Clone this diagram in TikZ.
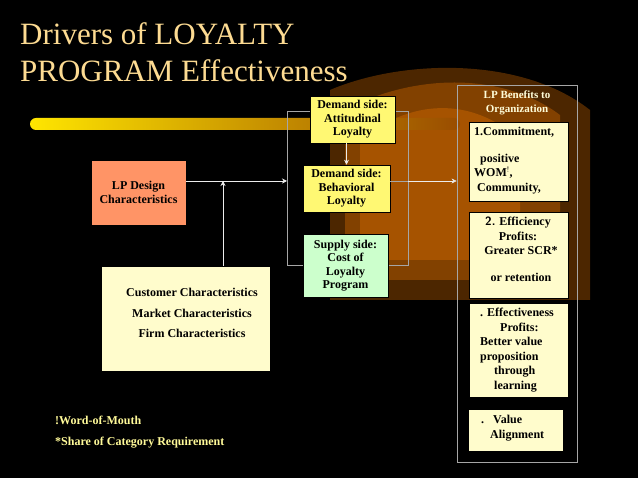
\documentclass[tikz,border=0pt]{standalone}
\usepackage{fontspec}
\usetikzlibrary{arrows.meta}
\setmainfont{Liberation Serif}
\begin{document}
\begin{tikzpicture}[x=1pt,y=-1pt,
  bx/.style={draw=black,line width=0.6pt,fill=#1,inner sep=0pt,font=\bfseries\fontsize{12}{13.5}\selectfont,align=center},
  tx/.style={font=\bfseries\fontsize{12}{14.5}\selectfont,inner sep=0},
  conn/.style={draw=gray!70,line width=0.6pt},
  arr/.style={conn,-{Stealth[length=5pt,width=5pt]},draw=white!85!gray}]
\useasboundingbox (0,0) rectangle (638,478);
\fill[black] (0,0) rectangle (638,478);
% decorative brown arcs
\begin{scope}
\fill[orange!50!black,opacity=0.6] (330,300) -- (330,90) .. controls (400,60) and (520,55) .. (590,110) -- (590,300) -- cycle;
\fill[orange!65!black,opacity=0.6] (345,280) -- (345,110) .. controls (410,75) and (500,70) .. (560,115) -- (560,280) -- cycle;
\fill[orange!75!black,opacity=0.6] (360,260) -- (360,140) .. controls (410,100) and (470,95) .. (520,140) -- (520,260) -- cycle;
\fill[black,opacity=0.6] (330,300) rectangle (600,478);
\end{scope}
\shade[left color=yellow!80!orange,right color=orange!60!black,rounded corners=6pt] (30,118) rectangle (460,130);
% title
\node[anchor=west,text=yellow!35!orange!40!white,font=\fontsize{31}{37}\selectfont,align=left,inner sep=0pt] (title) at (20,52) {Drivers of LOYALTY\\PROGRAM Effectiveness};
% bracket
\coordinate (bl) at (287,111); \coordinate (br) at (408,111);
\coordinate (bbl) at (287,265); \coordinate (bbr) at (408,265);
\draw[conn] (310,111) -- (bl) -- (bbl) -- (303,265);
\draw[conn] (395,111) -- (br) -- (bbr) -- (388,265);
\node[bx=yellow!55,minimum width=85,minimum height=47] (att) at (352.5,119.5) {Demand side:\\Attitudinal\\Loyalty};
\node[bx=yellow!55,minimum width=87,minimum height=47] (beh) at (346.5,188.5) {Demand side:\\Behavioral\\Loyalty};
\node[bx=green!20,minimum width=85,minimum height=63] (sup) at (345.5,265.5) {Supply side:\\Cost of\\Loyalty\\Program};
\node[bx=orange!60!red!60!white,minimum width=95,minimum height=65] (des) at (138.5,192.5) {LP Design\\Characteristics};
\node[bx=yellow!20,minimum width=169,minimum height=105] (cus) at (185.5,318.5) {};
\node[tx,align=center] (cust) at (192,313) {Customer Characteristics\\[6pt]Market Characteristics\\[6pt]Firm Characteristics};
% right panel
\node[draw=gray!70,line width=0.8pt,minimum width=120,minimum height=377,inner sep=0] (panel) at (517,273.5) {};
\node[tx,font=\bfseries\fontsize{11}{13.5}\selectfont,text=yellow!15,align=center] (ptitle) at (517,103) {LP Benefits to\\Organization};
\node[bx=yellow!20,minimum width=99,minimum height=79,anchor=north west] (b1) at (469,122) {};
\node[tx,align=left,anchor=north west] (t1) at (474,127) {1.Commitment,\\[12pt]\ \ positive\\WOM$^!$,\\\ Community,};
\node[bx=yellow!20,minimum width=99,minimum height=86,anchor=north west] (b2) at (469,212) {};
\node[tx,align=center,anchor=north] (t2) at (518,217) {{\sffamily 2.} Efficiency\\Profits:\\\ \ Greater SCR*\\[12pt]\ \ or retention};
\node[bx=yellow!20,minimum width=99,minimum height=94,anchor=north west] (b3) at (469,303) {};
\node[tx,align=left,anchor=north west] (t3) at (480,308) {. Effectiveness\\\hspace{20pt}Profits:\\Better value\\proposition\\\hspace{14pt}through\\\hspace{14pt}learning};
\node[bx=yellow!20,minimum width=95,minimum height=42,anchor=north west] (b4) at (468,409) {};
\node[tx,align=left,anchor=north west] (t4) at (481,415) {.\ \ \ Value\\\ \ \ Alignment};
% arrows
\coordinate (j) at (223,181);
\draw[arr] (des.east |- j) -- (bl |- j);
\draw[arr] (cus.north -| j) -- (j);
\draw[arr] (att.south -| beh.north) -- (beh.north);
\draw[arr] (br |- j) -- (panel.west |- j);
\draw[conn] (beh.east |- j) -- (br |- j);
% footnotes
\node[tx,anchor=west,text=yellow!40,align=left] (fn) at (55,432) {!Word-of-Mouth\\[7pt]*Share of Category Requirement};
\end{tikzpicture}
\end{document}
